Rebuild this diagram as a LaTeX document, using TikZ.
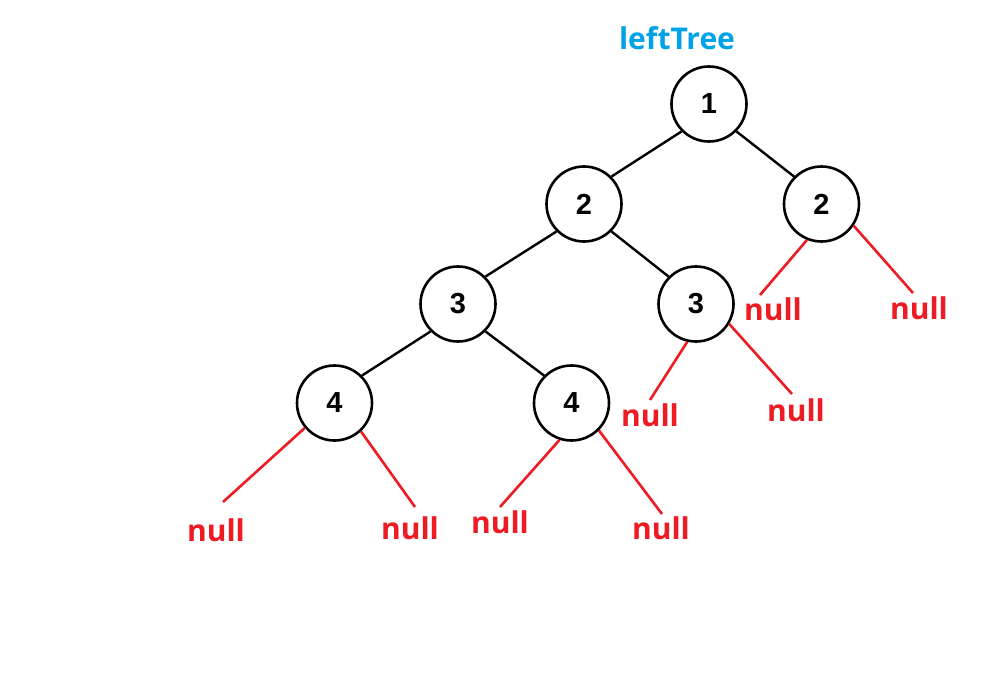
\documentclass[tikz,border=0pt]{standalone}
\usepackage{fontspec}
\setmainfont{Liberation Sans}
\newfontfamily\labfont{Open Sans}
\definecolor{nullred}{HTML}{ED1C24}
\definecolor{titleblue}{HTML}{00A2E8}
\begin{document}
\begin{tikzpicture}[x=1pt,y=-1pt,
  treenode/.style={circle,draw=black,line width=2.6pt,minimum size=75pt,inner sep=0pt,font=\fontsize{29}{29}\selectfont\bfseries},
  edge/.style={draw=black,line width=2.4pt},
  nullline/.style={draw=nullred,line width=2.6pt},
  nulltext/.style={text=nullred,inner sep=0pt,font=\labfont\fontsize{30}{30}\selectfont\bfseries},
  title/.style={text=titleblue,inner sep=0pt,font=\labfont\fontsize{30}{30}\selectfont\bfseries}]
\useasboundingbox (0,0) rectangle (994,674);
\fill[white] (0,0) rectangle (994,674);
% title
\node[title] (title) at (677,38) {leftTree};
% tree nodes
\node[treenode] (n1)  at (709,104) {1};
\node[treenode] (n2L) at (584,204) {2};
\node[treenode] (n2R) at (821.5,204) {2};
\node[treenode] (n3L) at (458,304) {3};
\node[treenode] (n3R) at (696,304) {3};
\node[treenode] (n4L) at (334.5,403) {4};
\node[treenode] (n4R) at (571.5,403) {4};
% black edges
\draw[edge] (n1.225) -- (n2L.45);
\draw[edge] (n1.315) -- (n2R.135);
\draw[edge] (n2L.225) -- (n3L.45);
\draw[edge] (n2L.315) -- (n3R.135);
\draw[edge] (n3L.225) -- (n4L.45);
\draw[edge] (n3L.315) -- (n4R.135);
% null ends
\coordinate (e4La) at (223,502);
\coordinate (e4Lb) at (415,507);
\coordinate (e4Ra) at (500,507);
\coordinate (e4Rb) at (662,514);
\coordinate (e3Ra) at (650,400);
\coordinate (e3Rb) at (792,394);
\coordinate (e2Ra) at (760,295);
\coordinate (e2Rb) at (913,293);
\draw[nullline] (n4L.220) -- (e4La);
\draw[nullline] (n4L.313) -- (e4Lb);
\draw[nullline] (n4R.252) -- (e4Ra);
\draw[nullline] (n4R.315) -- (e4Rb);
\draw[nullline] (n3R.257) -- (e3Ra);
\draw[nullline] (n3R.329) -- (e3Rb);
\draw[nullline] (n2R.248) -- (e2Ra);
\draw[nullline] (n2R.326) -- (e2Rb);
% null labels
\node[nulltext] (t4La) at (216,530) {null};
\node[nulltext] (t4Lb) at (410,528) {null};
\node[nulltext] (t4Ra) at (500,522) {null};
\node[nulltext] (t4Rb) at (661,528) {null};
\node[nulltext] (t3Ra) at (650,415) {null};
\node[nulltext] (t3Rb) at (796,410) {null};
\node[nulltext] (t2Ra) at (773,309) {null};
\node[nulltext] (t2Rb) at (919,308) {null};
\end{tikzpicture}
\end{document}
